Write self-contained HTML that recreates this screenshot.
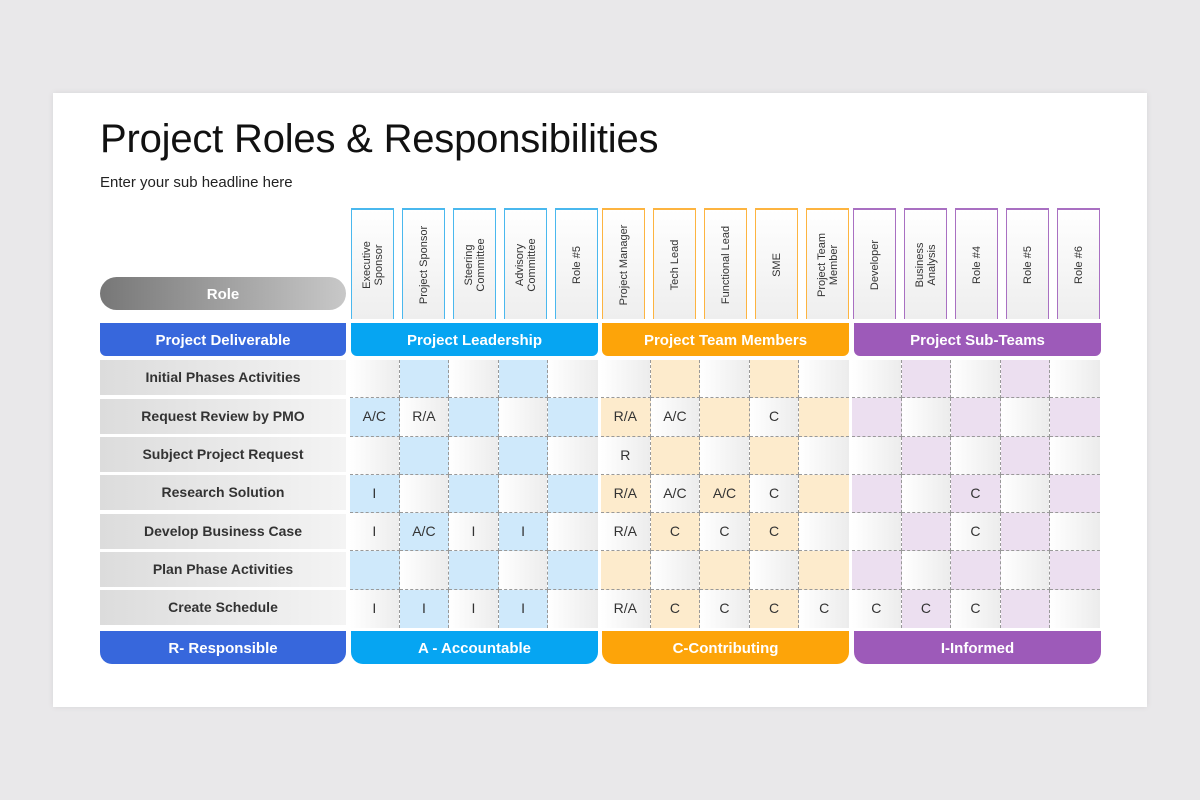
<!DOCTYPE html><html><head><style>
body{margin:0;width:1200px;height:800px;background:#e9e8ea;font-family:"Liberation Sans",sans-serif;position:relative;overflow:hidden}
.card{position:absolute;left:53px;top:93px;width:1094px;height:614px;background:#fff;box-shadow:0 0 6px rgba(0,0,0,.08)}
.abs{position:absolute}
h1{position:absolute;left:100px;top:117px;margin:0;font-weight:normal;font-size:40px;color:#111;letter-spacing:-.2px}
.sub{left:100px;top:174px;font-size:15px;color:#222}
.hb{position:absolute;top:208px;width:43px;height:111px;border:1px solid;border-bottom:none;border-top-width:2px;background:linear-gradient(#fff,#eee);box-sizing:border-box}
.hb span{position:absolute;left:50%;top:50%;transform:translate(-50%,-50%) rotate(-90deg);font-size:11px;line-height:12px;color:#333;text-align:center;white-space:nowrap}
.bar{position:absolute;height:33px;color:#fff;font-weight:bold;font-size:15px;line-height:35px;text-align:center;border-radius:0 0 6px 6px}
.lab{position:absolute;left:100px;width:246px;height:35px;line-height:35px;text-align:center;font-size:14px;font-weight:bold;color:#333;background:linear-gradient(90deg,#dcdcdc,#f4f4f4)}
.g{position:absolute;top:360px;width:248px;display:grid;grid-template-columns:repeat(5,1fr);grid-auto-rows:38.3px}
.g div{box-sizing:border-box;border-right:1px dashed #999;border-bottom:1px dashed #999;background:linear-gradient(90deg,#fff,#ececec);font-size:14px;color:#333;text-align:center;line-height:37px}
.g div:nth-child(5n){border-right:none}
.g div:nth-last-child(-n+5){border-bottom:none}
</style></head><body>
<div class="card"></div>
<h1>Project Roles &amp; Responsibilities</h1>
<div class="abs sub">Enter your sub headline here</div>
<div class="abs" style="left:100px;top:277px;width:246px;height:33px;border-radius:17px;background:linear-gradient(90deg,#777,#c8c8c8);color:#fff;font-weight:bold;font-size:15px;line-height:35px;text-align:center">Role</div>
<div id="hdr"></div>
<div class="bar" style="left:100px;top:323px;width:246px;background:#3767dc">Project Deliverable</div>
<div class="bar" style="left:351px;top:323px;width:247px;background:#06a5f2">Project Leadership</div>
<div class="bar" style="left:602px;top:323px;width:247px;background:#fda409">Project Team Members</div>
<div class="bar" style="left:854px;top:323px;width:247px;background:#9d5ab9">Project Sub-Teams</div>
<div class="bar" style="left:100px;top:631px;width:246px;border-radius:0 0 12px 12px;background:#3767dc">R- Responsible</div>
<div class="bar" style="left:351px;top:631px;width:247px;border-radius:0 0 12px 12px;background:#06a5f2">A - Accountable</div>
<div class="bar" style="left:602px;top:631px;width:247px;border-radius:0 0 12px 12px;background:#fda409">C-Contributing</div>
<div class="bar" style="left:854px;top:631px;width:247px;border-radius:0 0 12px 12px;background:#9d5ab9">I-Informed</div>
<div class="lab" style="top:360px">Initial Phases Activities</div>
<div class="lab" style="top:399px">Request Review by PMO</div>
<div class="lab" style="top:437px">Subject Project Request</div>
<div class="lab" style="top:475px">Research Solution</div>
<div class="lab" style="top:514px">Develop Business Case</div>
<div class="lab" style="top:552px">Plan Phase Activities</div>
<div class="lab" style="top:590px">Create Schedule</div>
<div id="grid"></div>
<script>
var names=["Executive<br>Sponsor","Project Sponsor","Steering<br>Committee","Advisory<br>Committee","Role #5","Project Manager","Tech Lead","Functional Lead","SME","Project Team<br>Member","Developer","Business<br>Analysis","Role #4","Role #5","Role #6"];
var bc=["#4ab8ee","#fdb440","#a970c2"],fill=["#cfe9fb","#fdebcc","#ecdff0"],lefts=[351,602,853];
var h="";
for(var i=0;i<15;i++){var g=Math.floor(i/5),c=i%5;h+='<div class="hb" style="left:'+(lefts[g]+c*51)+'px;border-color:'+bc[g]+'"><span>'+names[i]+'</span></div>';}
document.getElementById("hdr").innerHTML=h;
var d=[[["","","","",""],["A/C","R/A","","",""],["","","","",""],["I","","","",""],["I","A/C","I","I",""],["","","","",""],["I","I","I","I",""]],
[["","","","",""],["R/A","A/C","","C",""],["R","","","",""],["R/A","A/C","A/C","C",""],["R/A","C","C","C",""],["","","","",""],["R/A","C","C","C","C"]],
[["","","","",""],["","","","",""],["","","","",""],["","","C","",""],["","","C","",""],["","","","",""],["C","C","C","",""]]];
var o="";
for(var g=0;g<3;g++){o+='<div class="g" style="left:'+(lefts[g]-1)+'px">';for(var r=0;r<7;r++)for(var c=0;c<5;c++){var s=((r+c)%2==1)?' style="background:'+fill[g]+'"':'';o+='<div'+s+'>'+d[g][r][c]+'</div>';}o+='</div>';}
document.getElementById("grid").innerHTML=o;
</script>
</body></html>
